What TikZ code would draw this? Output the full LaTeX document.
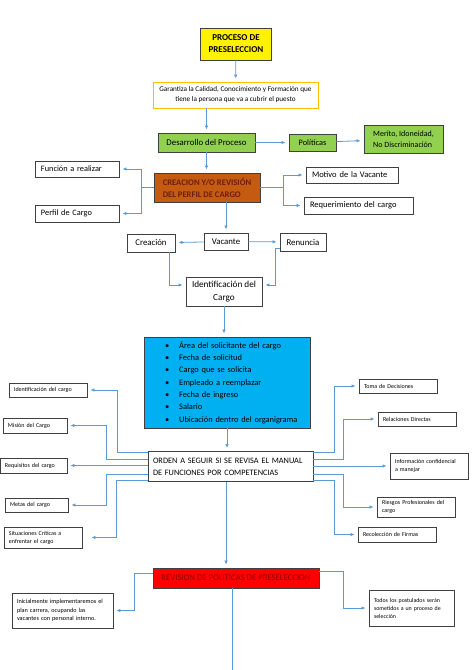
\documentclass[tikz,border=0pt]{standalone}
\usepackage{fontspec}
\setmainfont{Carlito}
\usetikzlibrary{arrows.meta}
\definecolor{linkblue}{HTML}{5B9BD5}
\definecolor{boxline}{HTML}{404040}
\definecolor{leafgreen}{HTML}{92D050}
\definecolor{rust}{HTML}{C55A11}
\definecolor{rusttext}{HTML}{6B200A}
\definecolor{skyfill}{HTML}{00B0F0}
\definecolor{gold}{HTML}{FFC000}
\definecolor{maroon}{HTML}{8C0000}
\begin{document}
\begin{tikzpicture}[
    x=1pt, y=-1pt,
    box/.style={draw=boxline, line width=0.9pt, fill=white, inner sep=2pt, align=left},
    green/.style={box, fill=leafgreen},
    small/.style={box, font=\fontsize{6}{8}\selectfont, inner xsep=5pt},
    link/.style={draw=linkblue, line width=0.8pt, -{Latex[length=4pt,width=3.5pt]}, shorten >=3pt}
]
    \useasboundingbox (0,0) rectangle (474,670);

    % Header
    \node[box, fill=yellow, align=center, minimum width=71pt, minimum height=32pt,
          font=\fontsize{9}{12}\selectfont\bfseries] (proceso) at (236,44) {PROCESO DE\\PRESELECCION};
    \node[box, draw=gold, align=center, minimum width=165pt, minimum height=26pt,
          font=\fontsize{7.2}{10}\selectfont] (garantiza) at (235.5,95)
          {Garantiza la Calidad, Conocimiento y Formación que\\tiene la persona que va a cubrir el puesto};
    \node[green, align=center, minimum width=97pt, minimum height=19pt, font=\fontsize{8.8}{10}\selectfont] (desarrollo) at (206.5,142.5) {Desarrollo del Proceso};
    \node[green, align=center, minimum width=47pt, minimum height=17pt, font=\fontsize{8.3}{10}\selectfont] (politicas) at (312.5,142.5) {Políticas};
    \node[green, align=left, minimum width=79pt, minimum height=28pt, font=\fontsize{8}{11}\selectfont] (merito) at (403.5,139) {Merito, Idoneidad,\\No Discriminación};

    \draw[link] (proceso) -- (garantiza);
    \draw[link] (garantiza.south -| desarrollo) -- (desarrollo);
    \draw[link] (desarrollo) -- (politicas);
    \draw[link] (politicas) -- (merito);

    % Perfil de cargo
    \node[box, fill=rust, text=rusttext, minimum width=106pt, minimum height=29pt, inner xsep=5pt,
          font=\fontsize{8.6}{12}\selectfont\bfseries] (creacion) at (207,187.5) {CREACION Y/O REVISIÓN\\DEL PERFIL DE CARGO};
    \node[box, text width=72pt, inner xsep=6pt, minimum height=16pt, font=\fontsize{8.3}{9}\selectfont] (funcion) at (77,169) {Función a realizar};
    \node[box, text width=72pt, inner xsep=6pt, minimum height=17pt, font=\fontsize{8.3}{9}\selectfont] (perfil) at (77,213.5) {Perfil de Cargo};
    \node[box, text width=80pt, inner xsep=6pt, minimum height=16pt, font=\fontsize{8.5}{9}\selectfont] (motivo) at (352,175) {Motivo de la Vacante};
    \node[box, text width=97pt, inner xsep=6pt, minimum height=17pt, font=\fontsize{8.5}{9}\selectfont] (requerimiento) at (358.5,205.5) {Requerimiento del cargo};

    \draw[link] (desarrollo.south |- 0,152) -- (creacion.north -| desarrollo);
    \draw[link] (creacion.west) -- ++(-12,0) |- (funcion.east);
    \draw[link] (creacion.west) -- ++(-12,0) |- (perfil.east);
    \draw[link] (creacion.east) -- ++(23,0) |- (motivo.west);
    \draw[link] (creacion.east) -- ++(23,0) |- (requerimiento.west);

    % Vacante
    \node[box, align=center, minimum width=44pt, minimum height=17pt, font=\fontsize{8.8}{9}\selectfont] (vacante) at (226,241.5) {Vacante};
    \node[box, align=center, minimum width=48pt, minimum height=18pt, font=\fontsize{8.8}{9}\selectfont] (nueva) at (151,243) {Creación};
    \node[box, align=center, minimum width=46pt, minimum height=18pt, font=\fontsize{8.8}{9}\selectfont] (renuncia) at (303,242) {Renuncia};
    \node[box, align=center, minimum width=76pt, minimum height=29pt, font=\fontsize{9.2}{12.5}\selectfont] (ident) at (224,291.5) {Identificación del\\Cargo};

    \draw[link] (creacion.south -| vacante) -- (vacante);
    \draw[link] (vacante) -- (nueva);
    \draw[link] (vacante) -- (renuncia);
    \draw[link] ([xshift=18pt]nueva.south) |- ([yshift=6.5pt]ident.west);
    \draw[link] ([yshift=3pt]renuncia.south west) -- ++(-4,0) |- ([yshift=6.5pt]ident.east);

    % Datos de la solicitud
    \node[box, fill=skyfill, text width=162pt, minimum height=91pt, inner sep=2pt,
          font=\fontsize{8.4}{12.3}\selectfont] (lista) at (227,382.5) {%
        \hspace*{19pt}\textbullet\hspace{10pt}Área del solicitante del cargo\\
        \hspace*{19pt}\textbullet\hspace{10pt}Fecha de solicitud\\
        \hspace*{19pt}\textbullet\hspace{10pt}Cargo que se solicita\\
        \hspace*{19pt}\textbullet\hspace{10pt}Empleado a reemplazar\\
        \hspace*{19pt}\textbullet\hspace{10pt}Fecha de ingreso\\
        \hspace*{19pt}\textbullet\hspace{10pt}Salario\\
        \hspace*{19pt}\textbullet\hspace{10pt}Ubicación dentro del organigrama};
    \node[box, text width=155pt, inner xsep=5pt, minimum height=30pt, font=\fontsize{8.3}{12}\selectfont] (orden) at (230.5,466.5)
          {ORDEN A SEGUIR SI SE REVISA EL MANUAL\\DE FUNCIONES POR COMPETENCIAS};

    \draw[link] (ident.south) -- (lista.north -| ident.south);
    \draw[link] (lista.south) -- (orden.north -| lista.south);

    % Lado izquierdo
    \node[small, text width=68pt, minimum height=14pt] (idcargo) at (48,390) {Identificación del cargo};
    \node[small, text width=54pt, minimum height=15pt] (mision) at (35,425.5) {Misión del Cargo};
    \node[small, text width=57pt, minimum height=15pt] (requisitos) at (33.5,465.5) {Requisitos del cargo};
    \node[small, text width=53pt, minimum height=14pt] (metas) at (36.5,505) {Metas del cargo};
    \node[small, text width=68pt, minimum height=21pt] (situaciones) at (43,537.5) {Situaciones Críticas a\\enfrentar el cargo};

    \draw[link] ([yshift=-1pt]orden.north west) -- ++(-30,0) |- (idcargo.east);
    \draw[link] ([yshift=-8pt]orden.north west) -- ++(-41,0) |- (mision.east);
    \draw[link] (orden.west |- requisitos) -- (requisitos.east);
    \draw[link] ([yshift=8pt]orden.south west) -- ++(-41,0) |- (metas.east);
    \draw[link] ([yshift=2pt]orden.south west) -- ++(-31,0) |- ([xshift=6pt]situaciones.east);

    % Lado derecho
    \node[small, text width=68pt, minimum height=14pt] (toma) at (398,386) {Toma de Decisiones};
    \node[small, text width=68pt, minimum height=14pt] (relaciones) at (417,419) {Relaciones Directas};
    \node[small, text width=68pt, minimum height=26pt] (info) at (429,466) {Información confidencial\\a manejar};
    \node[small, text width=68pt, minimum height=20pt] (riesgos) at (416,507) {Riesgos Profesionales del\\cargo};
    \node[small, text width=68pt, minimum height=15pt] (firmas) at (397,534.5) {Recolección de Firmas};

    \draw[link] ([yshift=-1pt]orden.north east) -- ++(21,0) |- (toma.west);
    \draw[link] ([yshift=-8pt]orden.north east) -- ++(30,0) |- (relaciones.west);
    \draw[link] (orden.east |- info) -- (info.west);
    \draw[link] ([yshift=8pt]orden.south east) -- ++(30,0) |- (riesgos.west);
    \draw[link] ([yshift=2pt]orden.south east) -- ++(21,0) |- (firmas.west);

    % Politicas de preseleccion
    \node[box, fill=red, text=maroon, align=center, minimum width=166pt, minimum height=20pt,
          font=\fontsize{8.7}{10}\selectfont] (revision) at (236,578) {REVISION DE POLITICAS DE PRESELECCION};
    \node[box, text width=91pt, inner xsep=5pt, minimum height=35pt, font=\fontsize{6.2}{8.3}\selectfont] (interno) at (62.5,610.5)
          {Inicialmente implementaremos el\\plan carrera, ocupando las\\vacantes con personal interno.};
    \node[box, text width=75pt, inner xsep=5pt, minimum height=36pt, font=\fontsize{5.9}{8}\selectfont] (todos) at (411.5,608)
          {Todos los postulados serán\\sometidos a un proceso de\\selección};
    \coordinate (fin) at (232,670);

    \draw[link] (orden.south -| 226,0) -- (revision.north -| 226,0);
    \draw[link] ([yshift=5pt]revision.west) -- ++(-18,0) |- (interno.east);
    \draw[link] ([yshift=7pt]revision.east) -- ++(24,0) |- (todos.west);
    \draw[draw=linkblue, line width=0.8pt] (revision.south -| fin) -- (fin);
\end{tikzpicture}
\end{document}
